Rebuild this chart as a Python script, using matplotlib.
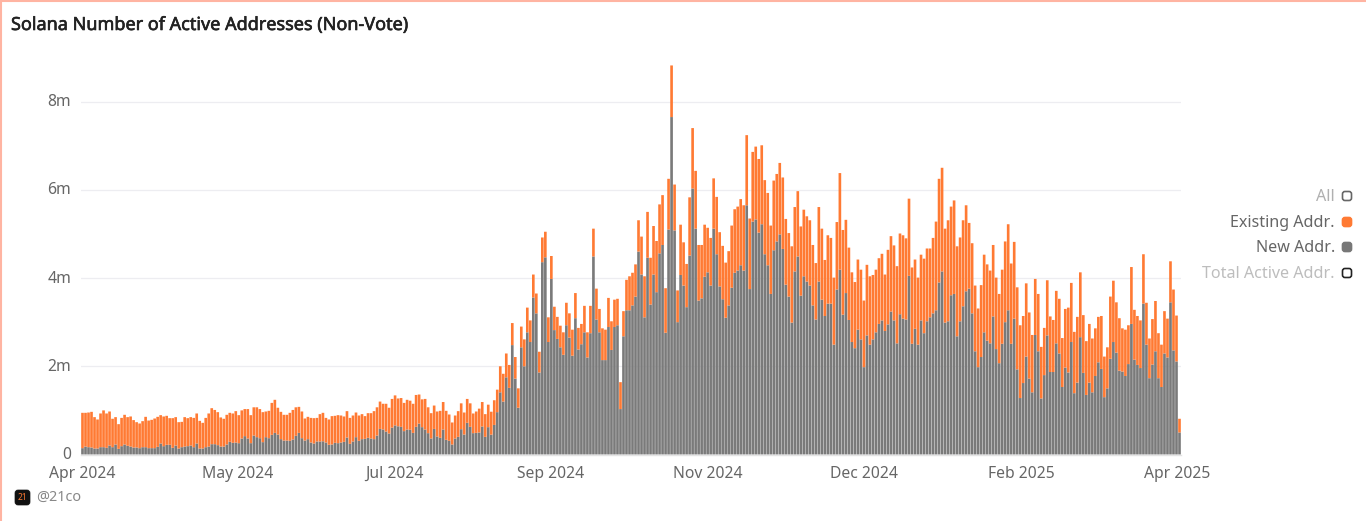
import numpy as np
import matplotlib
matplotlib.use("Agg")
import matplotlib.pyplot as plt
import matplotlib.patheffects as pe
from matplotlib.patches import FancyBboxPatch
from matplotlib.lines import Line2D
from matplotlib.transforms import Affine2D, ScaledTranslation

total_a = [.945,.945,.952,.967,.847,.794,.93,1.0,.93,.975,.81,.847,.688,.83,.90,.847,.862,.78,.733,.703,
 .756,.854,.77,.786,.816,.854,.892,.862,.877,.824,.824,.847,.733,.74,.847,.824,.847,.83,.93,.763,
 .718,.83,.93,1.05,1.01,.96,.84,.81,.90,.945,.93,.983,.892,1.0,1.03,1.03,.892,1.07,1.07,1.03,
 .96,.975,.99,1.17,1.24,1.06]
new_a = [.144,.18,.166,.159,.136,.136,.166,.166,.151,.204,.166,.227,.128,.189,.227,.197,.18,.159,.159,.144,
 .166,.166,.144,.144,.144,.174,.25,.189,.22,.22,.151,.204,.136,.166,.18,.189,.204,.166,.25,.136,
 .136,.166,.18,.234,.234,.212,.18,.18,.227,.287,.265,.272,.257,.363,.416,.363,.257,.43,.393,.37,
 .28,.393,.37,.446,.49,.453]
total_b = [.967,.90,.90,.945,1.01,1.07,1.08,.975,.816,.854,.83,.824,.83,.915,.945,.83,.794,.87,.877,.892,
 .884,.862,.983,.83,.884,.952,.884,.915,.87,.937,.937,.983,1.07,1.20,1.15,1.15,1.06,1.26,1.34,1.27,
 1.28,1.17,1.24,1.22,1.15,1.35,1.36,1.25,1.26,1.07,.937,1.11,.975,.99,1.19,.99,.907,.726,.884,.983,
 1.16,.952,1.26,1.16,.93,.975,1.04,1.19,.915,1.13]
new_b = [.348,.317,.317,.31,.34,.423,.49,.37,.317,.348,.272,.25,.295,.295,.30,.272,.22,.227,.265,.257,
 .272,.287,.385,.242,.295,.393,.31,.348,.355,.378,.363,.348,.43,.58,.567,.52,.476,.61,.66,.64,
 .627,.53,.567,.56,.49,.627,.70,.62,.567,.484,.363,.58,.41,.378,.567,.333,.31,.227,.363,.40,
 .574,.453,.718,.627,.484,.49,.50,.635,.40,.62]
total_c = [.97,1.23,1.47,2.0,1.83,2.29,2.03,2.98,2.21,1.50,2.90,2.61,3.33,3.04,4.08,3.65,2.33,4.92,5.05,3.11,
 4.50,3.35,3.12,2.92,2.77,3.44,3.20,2.83,3.66,2.87,2.96,3.37,2.77,3.37,5.12,3.76,3.30,2.86,2.83,3.55,
 3.02,3.51,3.53,1.64,3.25,3.96,4.04,4.12,4.31,5.31,4.94,4.04,5.50,4.46,5.18,4.84,5.67,5.88,3.77,6.25]
new_c = [.45,.67,.96,1.41,1.20,1.75,1.51,2.48,1.72,1.06,2.43,2.0,2.77,2.55,3.56,3.20,1.86,4.36,4.47,2.55,
 3.98,2.82,2.62,2.43,2.26,2.93,2.65,2.24,3.09,2.38,2.50,2.77,2.20,2.75,4.49,3.06,2.77,2.14,2.14,2.89,
 2.37,2.89,2.93,1.03,2.68,3.27,3.27,3.38,3.58,4.60,4.08,3.11,4.46,3.40,4.08,3.68,4.56,4.75,2.76,5.10]
total_d = [8.82,6.12,3.72,5.21,4.81,4.32,5.83,7.40,6.43,4.75,4.75,5.21,5.14,4.91,6.26,5.84,5.04,4.73,4.35,4.61,
 5.19,5.56,5.62,5.79,5.65,7.24,5.35,6.86,6.98,6.70,7.01,6.22,5.93,5.19,6.21,6.36,6.61,6.28,5.34,5.02,
 4.72,5.61,5.97,5.17,5.55,5.40,5.31,4.75,4.34,5.61,5.12,4.41,4.97,4.91,4.01,5.27,6.38]
new_d = [7.65,5.08,3.0,4.07,3.83,3.34,4.51,6.03,5.12,3.49,3.54,4.03,4.13,3.83,5.12,4.54,3.81,3.52,3.10,3.38,
 3.78,4.12,4.17,4.29,4.17,5.65,3.75,5.28,5.33,5.03,5.22,4.54,4.29,3.64,4.63,4.83,4.99,4.66,3.85,3.58,
 2.99,4.15,4.49,3.60,4.04,3.92,3.83,3.38,3.06,3.92,3.51,3.14,3.42,3.42,2.49,3.74,4.19]
total_e = [5.09,5.32,4.69,4.13,3.91,4.42,4.19,3.49,4.30,4.04,4.07,4.19,4.45,4.55,4.08,4.64,4.95,4.74,4.27,5.01,
 4.97,4.90,5.80,4.24,4.42,4.01,4.53,4.44,4.67,4.67,4.91,5.28,6.25,6.50,5.12,5.31,5.62,5.76,4.72,4.92,
 5.31,5.65,5.25,4.79,3.83,3.31,3.84,4.53,4.31,4.17,4.75,4.01,3.64,4.19,4.83,5.22]
new_e = [3.17,3.66,3.05,2.55,2.41,2.83,2.61,1.98,2.70,2.49,2.61,2.77,2.96,3.04,2.80,2.95,3.24,3.04,2.52,3.18,
 3.08,3.06,4.05,2.51,2.85,2.49,3.04,2.75,3.02,3.11,3.20,3.27,3.90,4.15,2.99,3.02,3.61,3.64,2.68,3.02,
 3.36,3.70,3.76,3.20,2.34,1.98,2.21,2.77,2.58,2.52,3.13,2.39,2.07,2.51,3.0,3.27]
total_f = [4.33,4.82,3.79,2.93,3.14,3.88,3.22,2.71,3.98,3.64,2.44,2.87,3.95,3.13,3.05,3.71,3.53,2.64,3.30,3.33,
 3.89,2.78,3.12,4.13,3.16,2.57,2.96,2.63,2.86,3.12,3.14,2.22,2.43,3.58,3.94,3.45,3.09,2.86,2.83,2.93,
 4.25,3.28,3.14,3.04,4.54,3.44,2.63,3.07,3.48,2.75,2.49,3.25,3.08,4.38,3.74,3.15,0.81]
new_f = [2.51,3.08,1.93,1.28,1.62,2.22,1.72,1.41,2.71,2.34,1.27,1.80,2.70,1.87,1.87,2.52,2.29,1.53,1.97,1.86,
 2.55,1.39,1.63,2.66,1.85,1.35,1.63,1.41,1.78,2.09,1.94,1.30,1.50,2.17,2.55,2.31,1.90,1.88,1.78,2.05,
 2.96,2.15,2.03,1.96,3.42,2.49,1.73,2.04,2.34,1.73,1.53,2.29,2.20,3.45,2.36,2.11,0.50]

x_tick_labels = ["Apr 2024", "May 2024", "Jul 2024", "Sep 2024", "Nov 2024", "Dec 2024", "Feb 2025", "Apr 2025"]
y_ticks = [0, 2, 4, 6, 8]
y_tick_labels = ["0", "2m", "4m", "6m", "8m"]
legend_names = ["All", "Existing Addr.", "New Addr.", "Total Active Addr."]

total = np.array(total_a + total_b + total_c + total_d + total_e + total_f)
new = np.array(new_a + new_b + new_c + new_d + new_e + new_f)
existing = total - new
idx = np.arange(len(total))

W, H = 1366, 521
plt.rcParams['font.family'] = ['Noto Sans', 'DejaVu Sans']
fig = plt.figure(figsize=(W / 100, H / 100), dpi=100)
fig.patch.set_facecolor('white')

def fx(p): return p / W
def fy(p): return 1 - p / H

px_tf = Affine2D().scale(1, -1).translate(0, H)

ax = fig.add_axes([fx(81), fy(454.5), 1100 / W, (454.5 - 57.5) / H])
ORANGE = '#FF7A33'
GREY = '#7A7A7A'
bars_new = ax.bar(idx, new, width=0.88, color=GREY, linewidth=0)
bars_old = ax.bar(idx, existing, bottom=new, width=0.88, color=ORANGE, linewidth=0)
for b in list(bars_new) + list(bars_old):
    b.set_snap(False)
ax.set_xlim(-0.5, len(total) - 0.5)
ax.set_ylim(0, 9)
ax.set_axisbelow(True)
ax.yaxis.grid(True, color='#EDEDF1', linewidth=0.9)
ax.xaxis.grid(False)
for s in ['top', 'right', 'left']:
    ax.spines[s].set_visible(False)
ax.spines['bottom'].set_color('#E4E4E4')
ax.spines['bottom'].set_linewidth(1.0)
ax.set_yticks(y_ticks, y_tick_labels)
tick_pos = (np.array([82, 238, 394.5, 551, 708, 864.5, 1021, 1177]) - 81) / 1100 * len(total) - 0.5
ax.set_xticks(tick_pos, x_tick_labels)
ax.tick_params(axis='both', length=0, labelsize=11.3, labelcolor='#666666')
ax.tick_params(axis='y', pad=7)
ax.tick_params(axis='x', pad=8)
for t in ax.get_yticklabels():
    t.set_transform(t.get_transform() + ScaledTranslation(0, 1.5 / 100, fig.dpi_scale_trans))

title = fig.text(fx(11), fy(25), "Solana Number of Active Addresses (Non-Vote)", fontsize=13.0,
                 color='#222222', ha='left', va='center')
title.set_path_effects([pe.withStroke(linewidth=0.45, foreground='#222222')])

legend_y = [196, 222, 247, 273]
legend_col = ['#B0B0B0', '#666666', '#666666', '#BDBDBD']
face = ['white', ORANGE, '#777777', 'white']
edge = ['#666666', ORANGE, '#777777', '#222222']
for name, y, c, f, e in zip(legend_names, legend_y, legend_col, face, edge):
    fig.text(fx(1335), fy(y + 1), name, fontsize=11.6, color=c, ha='right', va='center')
    box = FancyBboxPatch((1342.5, y - 4.5), 9, 9, boxstyle='round,pad=0,rounding_size=2.5',
                         facecolor=f, edgecolor=e, linewidth=1.2, transform=px_tf)
    fig.add_artist(box)

logo = FancyBboxPatch((15, 490), 15, 15, boxstyle='round,pad=0,rounding_size=3',
                      facecolor='#111111', edgecolor='#111111', linewidth=0.5, transform=px_tf)
fig.add_artist(logo)
fig.text(fx(22.5), fy(497.5), "21", fontsize=6, color=ORANGE, ha='center', va='center', fontweight='bold')
fig.text(fx(36), fy(497), "@21co", fontsize=10.4, color='#888888', ha='left', va='center')

fig.add_artist(Line2D([0, 1], [fy(0.5), fy(0.5)], color='#FFB4A2', linewidth=1.5, transform=fig.transFigure))
fig.add_artist(Line2D([fx(0.7), fx(0.7)], [0, 1], color='#FFB4A2', linewidth=1.5, transform=fig.transFigure))

fig.savefig('out.png', dpi=100, facecolor='white')
